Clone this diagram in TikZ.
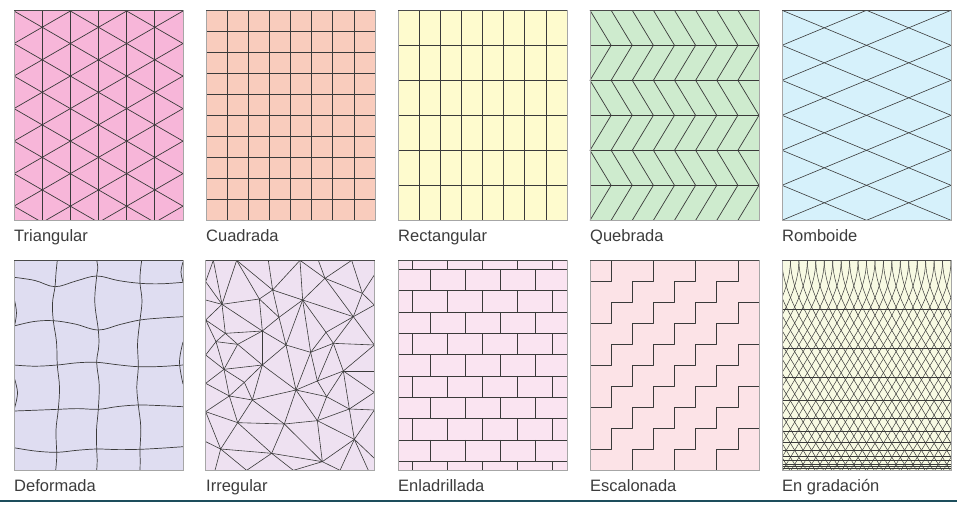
\documentclass[tikz,border=0pt]{standalone}
\usepackage{fontspec}
\setmainfont{Liberation Sans}
\definecolor{linec}{HTML}{3A3A3A}
\definecolor{framec}{HTML}{A6A6A6}
\definecolor{topc}{HTML}{4A4A4A}
\definecolor{textc}{HTML}{3C3C3C}
\definecolor{rulec}{HTML}{1D4E5C}
\definecolor{triC}{HTML}{F7B6D9}
\definecolor{cuaC}{HTML}{F9CCBD}
\definecolor{recC}{HTML}{FEFBCE}
\definecolor{queC}{HTML}{CEEBCE}
\definecolor{romC}{HTML}{D6F1FB}
\definecolor{defC}{HTML}{DFDDF1}
\definecolor{irrC}{HTML}{EEE1F1}
\definecolor{enlC}{HTML}{FAE4F1}
\definecolor{escC}{HTML}{FCE3E7}
\definecolor{graC}{HTML}{F8FAE3}
\newcommand\myframe[2]{%
  \draw[framec, line width=0.9pt] (#1,#2) rectangle ({#1+169},{#2+210});
  \draw[topc, line width=0.9pt] (#1,#2) -- ({#1+169},#2);}
\tikzset{
  gl/.style={draw=linec, line width=0.7pt, line join=round},
  gl2/.style={draw=linec, line width=0.5pt},
  lbl/.style={anchor=base west, inner sep=0pt, text=textc, font=\fontsize{16.5}{19}\selectfont},
  declare function={gu(\s)=min(\s/0.4,1); gf(\s)=50.4*(gu(\s)*gu(\s)-gu(\s)*gu(\s)*gu(\s)/3)+126*max(\s-0.4,0);},
}
\begin{document}
\begin{tikzpicture}[x=1pt,y=-1pt]
\useasboundingbox (0,0) rectangle (957,506);
\fill[white] (0,0) rectangle (957,506);

% ---------- Triangular
\fill[triC] (14,10.3) rectangle (183,220.3);
\begin{scope}
\clip (14,10.3) rectangle (183,220.3);
\foreach \k in {1,...,5} \draw[gl] ({14+28.1667*\k},10.3) -- ({14+28.1667*\k},220.3);
\foreach \j in {-4,...,10} {
  \draw[gl] (14,{11+32.525*\j}) -- (183,{11+32.525*\j+97.57});
  \draw[gl] (14,{11+32.525*\j}) -- (183,{11+32.525*\j-97.57});
}
\end{scope}
\myframe{14}{10.3}
\node[lbl] (t1) at (14,241) {Triangular};

% ---------- Cuadrada
\fill[cuaC] (206,10.3) rectangle (375,220.3);
\foreach \k in {1,...,7} \draw[gl] ({206+21.125*\k},10.3) -- ({206+21.125*\k},220.3);
\foreach \k in {1,...,9} \draw[gl] (206,{10.3+21*\k}) -- (375,{10.3+21*\k});
\myframe{206}{10.3}
\node[lbl] (t2) at (206,241) {Cuadrada};

% ---------- Rectangular
\fill[recC] (398,10.3) rectangle (567,220.3);
\foreach \k in {1,...,7} \draw[gl] ({398+21.125*\k},10.3) -- ({398+21.125*\k},220.3);
\foreach \k in {1,...,5} \draw[gl] (398,{10.3+35*\k}) -- (567,{10.3+35*\k});
\myframe{398}{10.3}
\node[lbl] (t3) at (398,241) {Rectangular};

% ---------- Quebrada
\fill[queC] (590,10.3) rectangle (759,220.3);
\foreach \k in {1,...,5} \draw[gl] (590,{10.3+35*\k}) -- (759,{10.3+35*\k});
\foreach \k in {0,...,7} {
  \pgfmathsetmacro\xa{590+21.125*\k}
  \pgfmathsetmacro\xb{611.125+21.125*\k}
  \draw[gl] (\xa,10.3) -- (\xb,45.3) -- (\xa,80.3) -- (\xb,115.3) -- (\xa,150.3) -- (\xb,185.3) -- (\xa,220.3);
}
\myframe{590}{10.3}
\node[lbl] (t4) at (590,241) {Quebrada};

% ---------- Romboide
\fill[romC] (782,10.3) rectangle (951,220.3);
\begin{scope}
\clip (782,10.3) rectangle (951,220.3);
\foreach \j in {-3,...,7} {
  \draw[gl, line width=0.6pt] (782,{10.3+35*\j}) -- (951,{10.3+35*\j+70});
  \draw[gl, line width=0.6pt] (782,{10.3+35*\j}) -- (951,{10.3+35*\j-70});
}
\end{scope}
\myframe{782}{10.3}
\node[lbl] (t5) at (782,241) {Romboide};

% ---------- Deformada
\fill[defC] (14,260.3) rectangle (183,470.3);
\begin{scope}
\clip (14,260.3) rectangle (183,470.3);
\draw[gl] plot[smooth, tension=0.6] coordinates {(57.3,260.3) (56,273) (55,286.7) (52.5,303) (53.3,320.7) (56.5,342) (57.3,365) (59.5,387) (58.3,409.3) (56,430) (56.7,452.3) (56.5,461) (55.7,470.3)};
\draw[gl] plot[smooth, tension=0.6] coordinates {(96.7,260.3) (97.8,268) (96.7,276) (94.8,302) (98.3,330) (98.8,346) (96.7,362.3) (99.2,385) (98.3,409.3) (96.5,430) (96.7,449) (97.2,460) (96.7,470.3)};
\draw[gl] plot[smooth, tension=0.6] coordinates {(141.7,260.3) (140.3,272) (140,283.3) (142,301) (140,320) (137.6,343) (138.3,366.7) (136.8,387) (138.3,405) (140.8,427) (140,449.3) (140.2,460) (140,470.3)};
\draw[gl] plot[smooth, tension=0.6] coordinates {(14,277.3) (35,280.5) (55,286.7) (76,281) (96.7,276) (118,280.5) (140,283.3) (161,283.8) (183,282.3)};
\draw[gl] plot[smooth, tension=0.6] coordinates {(14,326) (34,321.5) (53.3,320.7) (75,324) (98.3,330) (120,324.5) (140,320) (161,318) (183,316.7)};
\draw[gl] plot[smooth, tension=0.6] coordinates {(14,365) (35,366.2) (57.3,365) (77,362.8) (96.7,362.3) (118,364.8) (138.3,366.7) (160,366.5) (183,365)};
\draw[gl] plot[smooth, tension=0.6] coordinates {(14,411) (36,410.2) (58.3,409.3) (78,408.6) (98.3,409.3) (118,406.5) (138.3,405) (160,405.6) (183,406.7)};
\draw[gl] plot[smooth, tension=0.6] coordinates {(14,447.7) (35,451) (56.7,452.3) (77,450.3) (96.7,449) (118,449.6) (140,449.3) (161,448.2) (183,446.7)};
\draw[gl] plot[smooth, tension=0.6] coordinates {(14,298) (16.5,313) (14,328)};
\draw[gl] plot[smooth, tension=0.6] coordinates {(14,377) (17.5,393) (14,410)};
\draw[gl] plot[smooth, tension=0.6] coordinates {(183,342) (179.5,362) (183,384)};
\draw[gl] plot[smooth, tension=0.6] coordinates {(183,262) (181,272) (183,282)};
\end{scope}
\myframe{14}{260.3}
\node[lbl] (t6) at (14,491) {Deformada};

% ---------- Irregular
\fill[irrC] (205.7,260.3) rectangle (374.7,470.3);
\begin{scope}
\clip (205.7,260.3) rectangle (374.7,470.3);
\begin{scope}[shift={(200,255)}, scale=0.333333]
\coordinate (iA) at (66,148);  \coordinate (iB) at (178,132); \coordinate (iC) at (218,105);
\coordinate (iD) at (308,135); \coordinate (iE) at (375,70);  \coordinate (iF) at (487,115);
\coordinate (iG) at (460,185); \coordinate (iH) at (378,232); \coordinate (iI) at (400,265);
\coordinate (iJ) at (332,292); \coordinate (iK) at (258,270); \coordinate (iL) at (237,187);
\coordinate (iM) at (187,228); \coordinate (iN) at (113,268); \coordinate (iO) at (48,260);
\coordinate (iQ) at (76,235);  \coordinate (iR) at (72,343);  \coordinate (iS) at (187,330);
\coordinate (iT) at (133,382); \coordinate (iU) at (88,423);  \coordinate (iV) at (157,435);
\coordinate (iW) at (288,405); \coordinate (iX) at (352,378); \coordinate (iY) at (430,348);
\coordinate (iZ) at (380,425); \coordinate (iAA) at (448,462); \coordinate (iAB) at (352,497);
\coordinate (iAC) at (253,507); \coordinate (iAD) at (113,503); \coordinate (iAE) at (463,553);
\coordinate (iAF) at (367,620); \coordinate (iAG) at (215,595); \coordinate (iAH) at (62,582);
\coordinate (iT1) at (40,16);  \coordinate (iT2) at (110,16); \coordinate (iT3) at (205,16);
\coordinate (iT4) at (300,16); \coordinate (iT5) at (355,16); \coordinate (iT6) at (455,16);
\coordinate (iL1) at (17,80);  \coordinate (iL2) at (17,135); \coordinate (iL3) at (17,195);
\coordinate (iL4) at (17,300); \coordinate (iL5) at (17,385); \coordinate (iL6) at (17,470);
\coordinate (iL7) at (17,560);
\coordinate (iR1) at (523,60); \coordinate (iR2) at (523,150); \coordinate (iR3) at (523,270);
\coordinate (iR4) at (523,348); \coordinate (iR5) at (523,412); \coordinate (iR6) at (523,465);
\coordinate (iR7) at (523,610);
\coordinate (iBo1) at (45,646); \coordinate (iBo2) at (140,646); \coordinate (iBo3) at (280,646);
\coordinate (iBo4) at (420,646); \coordinate (iBo5) at (505,646);
\foreach \u/\v in {T1/L1, L1/A, T1/A, L2/A, T2/A, T2/B, A/B, B/C, T2/C, T3/C,
  T4/C, C/D, T4/D, T4/E, T5/E, E/D, T6/E, T6/F, E/F, F/R1, F/R2,
  F/G, E/G, D/G, D/H, G/H, G/R2, G/R3, G/I, H/I, I/R3,
  D/L, C/L, B/L, A/M, B/M, L/M,
  A/L3, A/Q, Q/L3, Q/O, O/L3, O/L4,
  Q/M, Q/N, N/M, O/R, N/R, L4/R, O/N,
  L/K, D/K, M/K, D/J, H/J, K/J,
  I/J, J/X, I/X, I/Y, X/Y, Y/R3, Y/R4,
  M/S, N/S, K/S, K/W, J/W, W/X, S/W,
  R/S, R/T, S/T, R/U, T/U, R/L5, L5/U,
  T/V, U/V, S/V, V/W, W/Z, X/Z, Y/Z,
  Y/R5, R5/AA, Y/AA, Z/AA, R6/AA,
  V/AC, W/AC, Z/AB, W/AB, AB/AC, AA/AB,
  U/L6, U/AD, V/AD, L6/AD, AD/AC,
  L6/AH, L7/AH, AD/AH, Bo1/AH, Bo2/AH, AD/AG, AC/AG, AH/AG, AG/Bo2, AG/Bo3,
  AB/AF, AC/AF, AG/AF, AF/Bo3, AF/Bo4, AF/AE, AE/Bo4, AB/AE, AA/AE,
  AE/R6, AE/R7, AE/Bo5}
  \draw[gl, line width=0.6pt] (i\u) -- (i\v);
\end{scope}
\end{scope}
\myframe{205.7}{260.3}
\node[lbl] (t7) at (206,491) {Irregular};

% ---------- Enladrillada
\fill[enlC] (398,260.3) rectangle (567,470.3);
\foreach \k in {0,...,9} \draw[gl] (398,{269.3+21.333*\k}) -- (567,{269.3+21.333*\k});
\foreach \m in {0,...,4} {
  \draw[gl] ({412.7+35*\m},260.3) -- ({412.7+35*\m},269.3);
  \draw[gl] ({412.7+35*\m},461.3) -- ({412.7+35*\m},470.3);
}
\foreach \k in {1,3,5,7} \foreach \m in {0,...,4}
  \draw[gl] ({412.7+35*\m},{269.3+21.333*\k}) -- ({412.7+35*\m},{269.3+21.333*(\k+1)});
\foreach \k in {0,2,4,6,8} \foreach \m in {0,...,3}
  \draw[gl] ({430.2+35*\m},{269.3+21.333*\k}) -- ({430.2+35*\m},{269.3+21.333*(\k+1)});
\myframe{398}{260.3}
\node[lbl] (t8) at (398,491) {Enladrillada};

% ---------- Escalonada
\fill[escC] (590,260.3) rectangle (759,470.3);
\begin{scope}
\clip (590,260.3) rectangle (759,470.3);
\foreach \r in {1,3,...,19}
  \draw[gl] (590,{260.3+21*\r}) \foreach \i in {0,...,9} { -- ++(21.125,0) -- ++(0,-21) };
\end{scope}
\myframe{590}{260.3}
\node[lbl] (t9) at (590,491) {Escalonada};

% ---------- En gradacion
\fill[graC] (782,260.3) rectangle (951,470.3);
\begin{scope}
\clip (782,260.3) rectangle (951,470.3);
\foreach \i in {-16,...,36} {
  \draw[gl2] plot[domain=0:1, samples=36, variable=\s] ({782+\i*8.45+gf(\s)}, {260.3+210*\s});
  \draw[gl2] plot[domain=0:1, samples=36, variable=\s] ({782+\i*8.45-gf(\s)}, {260.3+210*\s});
}
\foreach \h in {48.7,87.5,117,140,157.5,171,181.5,189.5,195.5,200,203.5,206,208.2}
  \draw[gl, line width=0.6pt] (782,{260.3+\h}) -- (951,{260.3+\h});
\end{scope}
\myframe{782}{260.3}
\node[lbl] (t10) at (782,491) {En gradación};

% bottom rule
\fill[rulec] (0,499.5) rectangle (957,502);
\end{tikzpicture}
\end{document}
